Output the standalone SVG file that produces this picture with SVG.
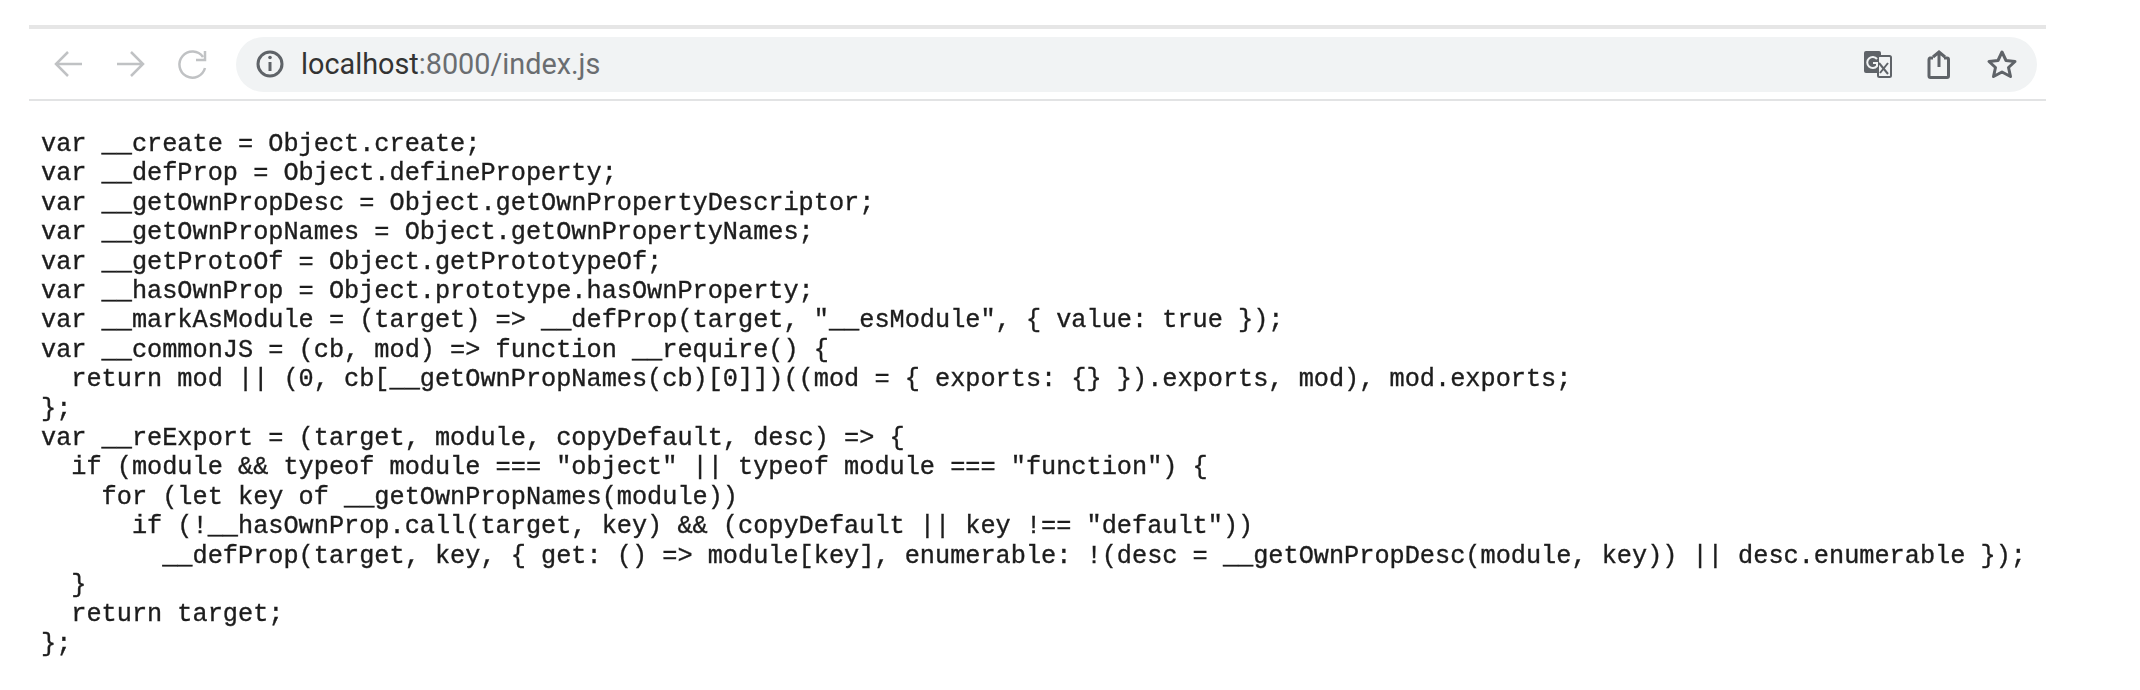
<svg xmlns="http://www.w3.org/2000/svg" width="2140" height="690" viewBox="0 0 2140 690">
<style>
.code{font-family:"Liberation Mono","Courier New",monospace;font-size:25.25px;fill:#1c1c1c;stroke:#1c1c1c;stroke-width:.35px;white-space:pre}
.url{font-family:"Roboto","Liberation Sans",sans-serif;font-size:28.8px}
.ico{fill:none;stroke:#5f6368;stroke-width:3}
.nav{fill:none;stroke:#c0c2c4;stroke-width:2.500}
</style>
<defs><filter id="soft" x="-2%" y="-2%" width="104%" height="104%"><feGaussianBlur stdDeviation="0.5"/></filter></defs>
<rect width="2140" height="690" fill="#fff"/>
<g id="toolbar">
<rect x="29" y="25" width="2017" height="4" fill="#e6e6e6"/>
<rect x="29" y="99" width="2017" height="2" fill="#e2e3e4"/>
<rect x="236" y="37" width="1801" height="55" rx="27.5" fill="#f1f3f4"/>
<g id="nav-buttons">
<path class="nav" d="M82 64H56M68 52L56 64L68 76"/>
<path class="nav" d="M117 64H143M131 52L143 64L131 76"/>
<path class="nav" d="M203 57A13 13 0 1 0 205 68M205 51V60H196"/>
</g>
<g id="site-info">
<circle class="ico" cx="270" cy="64" r="12"/>
<path d="M270 62V71" stroke="#5f6368" stroke-width="3"/>
<circle cx="270" cy="57.500" r="1.800" fill="#5f6368"/>
</g>
<text class="url" x="301" y="74"><tspan fill="#333">localhost</tspan><tspan fill="#6a6d70">:8000/index.js</tspan></text>
<g id="translate-icon">
<rect x="1864" y="51" width="17" height="22" rx="2" fill="#5f6368"/>
<rect x="1878" y="56" width="13" height="21" rx="1.500" fill="#f1f3f4" stroke="#5f6368" stroke-width="2"/>
<path d="M1879 63L1888 74M1888 63L1880 73" stroke="#5f6368" stroke-width="2" fill="none"/>
<path d="M1877 59A5.500 5.500 0 1 0 1877 66V63H1873" stroke="#f1f3f4" stroke-width="2" fill="none"/>
</g>
<g id="share-icon">
<path class="ico" d="M1933 58H1930A1.500 1.500 0 0 0 1929 59.500V76A1.500 1.500 0 0 0 1930.500 77.500H1947A1.500 1.500 0 0 0 1948.500 76V59.500A1.500 1.500 0 0 0 1947 58H1944"/>
<path class="ico" d="M1939 67V53M1933 57L1939 52L1945 57"/>
</g>
<path id="star-icon" class="ico" stroke-linejoin="round" d="M2002 52L2006 60.500L2015 61.500L2008.500 67.500L2010.500 76.500L2002 72L1993.500 76.500L1995.500 67.500L1989 61.500L1998 60.500Z"/>
</g>
<g id="code" filter="url(#soft)">
<text class="code" x="41" y="151">var __create = Object.create;</text>
<text class="code" x="41" y="180.400">var __defProp = Object.defineProperty;</text>
<text class="code" x="41" y="209.800">var __getOwnPropDesc = Object.getOwnPropertyDescriptor;</text>
<text class="code" x="41" y="239.200">var __getOwnPropNames = Object.getOwnPropertyNames;</text>
<text class="code" x="41" y="268.600">var __getProtoOf = Object.getPrototypeOf;</text>
<text class="code" x="41" y="298">var __hasOwnProp = Object.prototype.hasOwnProperty;</text>
<text class="code" x="41" y="327.400">var __markAsModule = (target) =&gt; __defProp(target, "__esModule", { value: true });</text>
<text class="code" x="41" y="356.800">var __commonJS = (cb, mod) =&gt; function __require() {</text>
<text class="code" x="41" y="386.200">  return mod || (0, cb[__getOwnPropNames(cb)[0]])((mod = { exports: {} }).exports, mod), mod.exports;</text>
<text class="code" x="41" y="415.600">};</text>
<text class="code" x="41" y="445">var __reExport = (target, module, copyDefault, desc) =&gt; {</text>
<text class="code" x="41" y="474.400">  if (module &amp;&amp; typeof module === "object" || typeof module === "function") {</text>
<text class="code" x="41" y="503.800">    for (let key of __getOwnPropNames(module))</text>
<text class="code" x="41" y="533.200">      if (!__hasOwnProp.call(target, key) &amp;&amp; (copyDefault || key !== "default"))</text>
<text class="code" x="41" y="562.600">        __defProp(target, key, { get: () =&gt; module[key], enumerable: !(desc = __getOwnPropDesc(module, key)) || desc.enumerable });</text>
<text class="code" x="41" y="592">  }</text>
<text class="code" x="41" y="621.400">  return target;</text>
<text class="code" x="41" y="650.800">};</text>
</g>
</svg>
